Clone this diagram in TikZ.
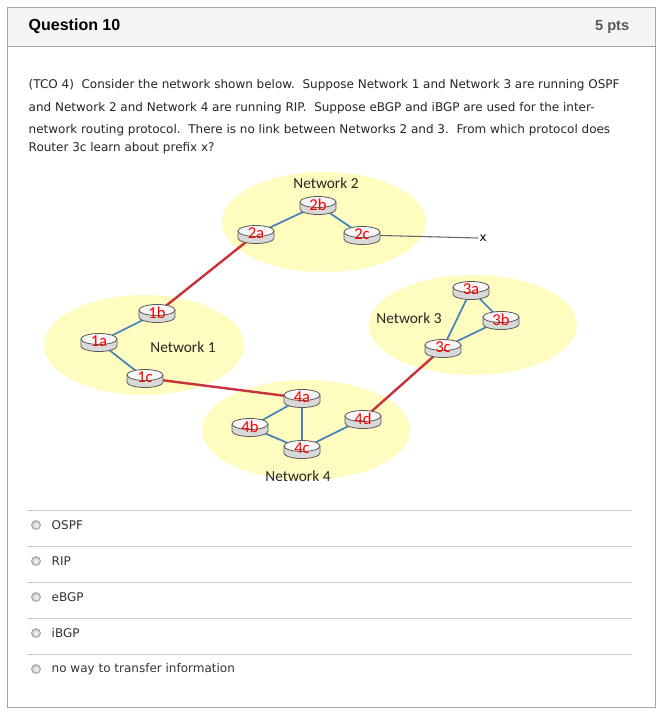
\documentclass[tikz,border=0pt]{standalone}
\usepackage{fontspec}
\setmainfont{DejaVu Sans}
\newfontfamily\hfont{Liberation Sans}
\newfontfamily\rfont{Carlito}
\begin{document}
\begin{tikzpicture}[x=0.75pt,y=-0.75pt,
  cloud/.style={fill=yellow!25!white,draw=none},
  lan/.style={draw={rgb,255:red,70;green,130;blue,190},line width=1.3pt},
  wan/.style={draw={rgb,255:red,200;green,50;blue,60},line width=1.8pt},
  rlab/.style={font=\rfont\fontsize{12.5}{12}\selectfont,text=red},
  net/.style={font=\rfont\fontsize{11.5}{12}\selectfont,text=black!85},
  body/.style={font=\fontsize{9}{12}\selectfont,anchor=west,text=black!85},
  opt/.style={font=\fontsize{9}{11}\selectfont,anchor=west,text=black!80}]
\useasboundingbox (0,0) rectangle (663,724);
\fill[white] (0,0) rectangle (663,724);
\fill[black!4] (7,7) rectangle (655,46);
\draw[black!35] (7,7) rectangle (655,707);
\draw[black!35] (7,46) -- (655,46);
\node[anchor=west,font=\hfont\bfseries\fontsize{12}{14}\selectfont] (q) at (24,26) {Question 10};
\node[anchor=east,font=\hfont\bfseries\fontsize{11}{14}\selectfont,text=black!65] (p) at (634,27) {5 pts};
\node[body] (t1) at (24,85) {(TCO 4)\ \ Consider the network shown below.\ \ Suppose Network 1 and Network 3 are running OSPF};
\node[body] (t2) at (24,108) {and Network 2 and Network 4 are running RIP.\ \ Suppose eBGP and iBGP are used for the inter-};
\node[body] (t3) at (24,130) {network routing protocol.\ \ There is no link between Networks 2 and 3.\ \ From which protocol does};
\node[body] (t4) at (24,148) {Router 3c learn about prefix x?};
% clouds
\fill[cloud] (324,222) ellipse (102 and 50);
\fill[cloud] (144,345) ellipse (100 and 50);
\fill[cloud] (306,430) ellipse (104 and 50);
\fill[cloud] (473,325) ellipse (104 and 50);
\node[net] (n2) at (326,183) {Network 2};
\node[net] (n1) at (183,347) {Network 1};
\node[net] (n3) at (409,318) {Network 3};
\node[net] (n4) at (298,476) {Network 4};
\foreach \n/\x/\y in {2b/318/205,2a/256/234,2c/362/235,1b/157/313,1a/99/342,1c/145/378,4a/302/398,4b/250/427,4c/302/449,4d/363/419,3a/471/290,3b/501/320,3c/443/348}
  \coordinate (c\n) at (\x,\y);
\coordinate (xx) at (478,238);
% links
\draw[lan] (c2a) -- (c2b); \draw[lan] (c2b) -- (c2c);
\draw[black!60,line width=0.8pt] (c2c) -- (xx);
\node[anchor=west,font=\fontsize{9}{11}\selectfont,inner sep=1pt] (x) at (xx) {x};
\draw[lan] (c1a) -- (c1b); \draw[lan] (c1a) -- (c1c);
\draw[wan] (c1b) -- (c2a); \draw[wan] (c1c) -- (c4a); \draw[wan] (c4d) -- (c3c);
\draw[lan] (c4a) -- (c4b); \draw[lan] (c4a) -- (c4c); \draw[lan] (c4b) -- (c4c); \draw[lan] (c4c) -- (c4d);
\draw[lan] (c3a) -- (c3b); \draw[lan] (c3a) -- (c3c); \draw[lan] (c3c) -- (c3b);
% routers
\foreach \n in {2b,2a,2c,1b,1a,1c,4a,4b,4c,4d,3a,3b,3c}{
  \begin{scope}[shift={(c\n)}]
  \fill[black!15,draw=black!65,line width=0.6pt] (-18,-3) -- (-18,4) arc[start angle=180,end angle=0,x radius=18,y radius=5.5] -- (18,-3) -- cycle;
  \fill[black!3,draw=black!65,line width=0.6pt] (0,-3) ellipse (18 and 5.5);
  \end{scope}
  \node[rlab] (r\n) at ([yshift=0.5pt]c\n) {\n};
}
% options
\foreach \i/\t in {0/OSPF,1/RIP,2/eBGP,3/iBGP,4/no way to transfer information}{
  \draw[black!20] (27,510+36*\i) -- (632,510+36*\i);
  \shade[inner color=white,outer color=black!25,draw=black!45] (36,525+36*\i) circle (4.5);
  \node[opt] (o\i) at (47,525+36*\i) {\t};
}
\end{tikzpicture}
\end{document}
